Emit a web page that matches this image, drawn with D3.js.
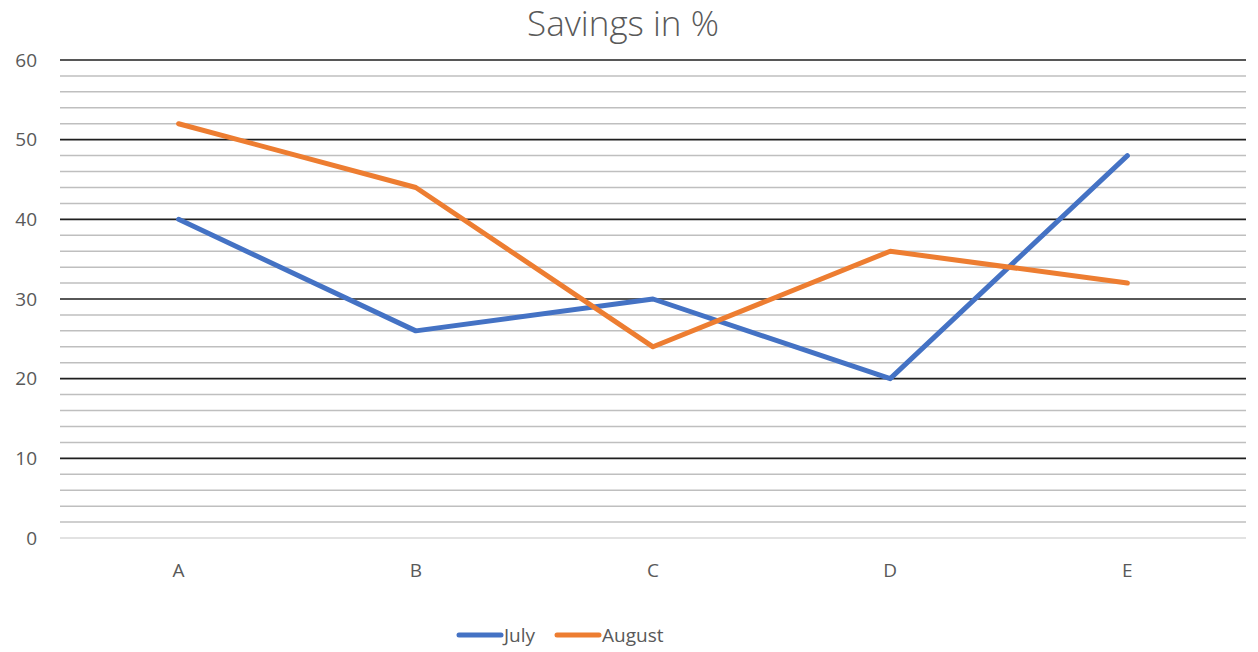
<!DOCTYPE html>
<html>
<head>
<meta charset="utf-8">
<script src="https://cdn.jsdelivr.net/npm/d3@7"></script>
<style>
  body { margin: 0; background: #fff; }
  text { font-family: "Open Sans", "Noto Sans", sans-serif; fill: #595959; }
</style>
</head>
<body>
<svg id="chart" width="1258" height="652"></svg>
<script>
// chart data
var categories = ["A", "B", "C", "D", "E"];
var july = [40, 26, 30, 20, 48];
var august = [52, 44, 24, 36, 32];
var yTicks = [0, 10, 20, 30, 40, 50, 60];

var series = [
  { name: "July", values: july, color: "#4472C4" },
  { name: "August", values: august, color: "#ED7D31" }
];

var svg = d3.select("#chart");

// plot area bounds
var plotLeft = 60, plotRight = 1246, plotTop = 60, plotBottom = 538;

var x = d3.scaleBand().domain(categories).range([plotLeft, plotRight]);
var y = d3.scaleLinear().domain([0, 60]).range([plotBottom, plotTop]);

// minor gridlines every 2
var minor = d3.range(2, 60, 2).filter(function (v) { return v % 10 !== 0; });
svg.append("g")
  .selectAll("line")
  .data(minor)
  .join("line")
  .attr("x1", plotLeft).attr("x2", plotRight)
  .attr("y1", function (d) { return y(d); })
  .attr("y2", function (d) { return y(d); })
  .attr("stroke", "#bfbfbf")
  .attr("stroke-width", 1.5);

// major gridlines
svg.append("g")
  .selectAll("line")
  .data(yTicks.filter(function (d) { return d > 0; }))
  .join("line")
  .attr("x1", plotLeft).attr("x2", plotRight)
  .attr("y1", function (d) { return y(d); })
  .attr("y2", function (d) { return y(d); })
  .attr("stroke", "#1f1f1f")
  .attr("stroke-width", 1.6);

// x axis line
svg.append("line")
  .attr("x1", plotLeft).attr("x2", plotRight)
  .attr("y1", y(0)).attr("y2", y(0))
  .attr("stroke", "#d9d9d9")
  .attr("stroke-width", 1.5);

// y tick labels
svg.append("g")
  .selectAll("text")
  .data(yTicks)
  .join("text")
  .attr("x", 37)
  .attr("y", function (d) { return y(d); })
  .attr("dy", "0.35em")
  .attr("text-anchor", "end")
  .style("font-size", "19px")
  .text(function (d) { return d; });

// x labels
svg.append("g")
  .selectAll("text")
  .data(categories)
  .join("text")
  .attr("x", function (d) { return x(d) + x.bandwidth() / 2; })
  .attr("y", 577)
  .attr("text-anchor", "middle")
  .style("font-size", "19px")
  .text(function (d) { return d; });

// lines
var line = d3.line()
  .x(function (d, i) { return x(categories[i]) + x.bandwidth() / 2; })
  .y(function (d) { return y(d); });

svg.append("g")
  .selectAll("path")
  .data(series)
  .join("path")
  .attr("d", function (s) { return line(s.values); })
  .attr("fill", "none")
  .attr("stroke", function (s) { return s.color; })
  .attr("stroke-width", 5)
  .attr("stroke-linecap", "round")
  .attr("stroke-linejoin", "round");

// title
svg.append("text")
  .attr("x", 623)
  .attr("y", 36)
  .attr("text-anchor", "middle")
  .style("font-size", "35px")
  .style("font-weight", 300)
  .text("Savings in %");

// legend
var legendX = [459, 557];
var legend = svg.append("g")
  .selectAll("g")
  .data(series)
  .join("g")
  .attr("transform", function (s, i) { return "translate(" + legendX[i] + ",635)"; });

legend.append("line")
  .attr("x1", 0).attr("x2", 42)
  .attr("y1", 0).attr("y2", 0)
  .attr("stroke", function (s) { return s.color; })
  .attr("stroke-width", 5)
  .attr("stroke-linecap", "round");

legend.append("text")
  .attr("x", 45)
  .attr("y", 0)
  .attr("dy", "0.35em")
  .style("font-size", "19px")
  .text(function (s) { return s.name; });
</script>
</body>
</html>
